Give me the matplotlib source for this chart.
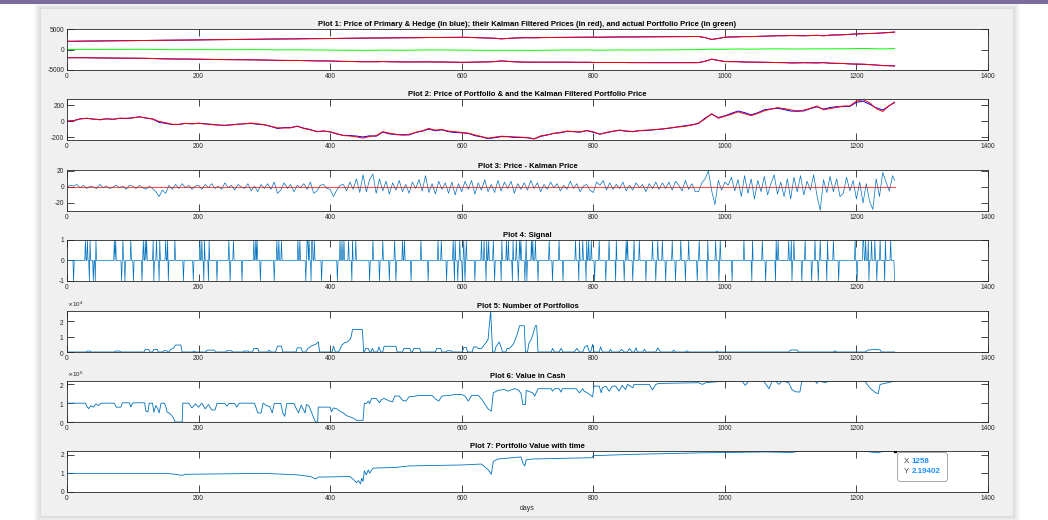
import numpy as np
import matplotlib
matplotlib.use('Agg')
import matplotlib.pyplot as plt
from matplotlib.patches import Rectangle
from matplotlib.ticker import ScalarFormatter
from matplotlib.offsetbox import TextArea, HPacker, AnnotationBbox

plt.rcParams['font.family'] = ['Liberation Sans', 'DejaVu Sans']
plt.rcParams['axes.unicode_minus'] = False

# ---- data ----
# 10-day grid for prices
days10 = [1] + list(range(10, 1251, 10)) + [1258]
kalman_port = [0,
    5, 28, 36, 25, 16, 28, 22, 36, 35, 40,
    52, 40, 28, -4, -20, -40, -40, -28, -32, -28,
    -36, -44, -50, -56, -48, -40, -32, -24, -34, -44,
    -64, -84, -86, -84, -64, -92, -110, -128, -125, -132,
    -156, -180, -185, -196, -212, -192, -180, -132, -150, -164,
    -168, -164, -140, -120, -92, -112, -105, -124, -132, -140,
    -150, -172, -192, -212, -200, -188, -192, -196, -200, -204,
    -220, -184, -170, -152, -140, -124, -130, -132, -120, -132,
    -164, -140, -125, -112, -122, -128, -118, -112, -108, -100,
    -92, -80, -72, -64, -50, -24, 28, 92, 36, 60,
    85, 116, 92, 68, 96, 128, 148, 168, 156, 140,
    128, 136, 160, 188, 140, 156, 170, 188, 188, 248,
    268, 228, 156, 120, 196,
    228]
primary = [2000,
    2010, 2030, 2050, 2060, 2080, 2100, 2120, 2140, 2150, 2170,
    2190, 2200, 2220, 2240, 2260, 2270, 2290, 2300, 2320, 2340,
    2360, 2380, 2400, 2410, 2430, 2450, 2470, 2490, 2500, 2520,
    2540, 2560, 2570, 2590, 2600, 2620, 2640, 2650, 2660, 2680,
    2700, 2720, 2740, 2760, 2780, 2790, 2800, 2810, 2830, 2840,
    2860, 2870, 2880, 2900, 2920, 2930, 2940, 2950, 2960, 2980,
    2960, 2900, 2850, 2800, 2750, 2600, 2700, 2800, 2850, 2880,
    2860, 2900, 2920, 2940, 2950, 2960, 2980, 2990, 3000, 3010,
    3000, 3020, 3040, 3050, 3060, 3070, 3080, 3090, 3100, 3110,
    3120, 3130, 3140, 3150, 3160, 3170, 2900, 2450, 2700, 3000,
    3050, 3100, 3150, 3150, 3200, 3250, 3300, 3350, 3350, 3400,
    3380, 3350, 3400, 3450, 3350, 3500, 3550, 3600, 3700, 3800,
    3850, 3900, 3950, 4050, 4150,
    4250]

# 5-day grid for price - kalman price
days5 = [1] + list(range(5, 1256, 5)) + [1258]
resid = [
    0, 2, 1, 3, -1, 2, -2, 1, 0, -2, 3, -1, 1, -2, 0, 2, -1, 1, -3, 2,
    1, -2, 2, -1, -3, 1, -2, -6, -12, -4, -8, 2, -3, 3, -2, 4, -1, 2, -3, 1,
    2, -3, 3, -1, 4, -2, 1, -3, 5, -1, 2, -4, 3, 0, -2, 4, -5, 1, -6, 3,
    -2, 4, -3, 6, -8, -4, 5, -2, 3, -6, 2, -1, 4, -3, 6, -8, -5, 2, 3, -2,
    -3, -12, -4, 2, 3, -5, 6, -3, 10, -7, 15, -6, 9, 16, -8, 10, -5, 7, -9, 5,
    -4, 8, -6, 3, -8, 6, -2, 9, -5, 14, -7, 4, -9, 7, -3, 5, -8, 6, -10, 4,
    -6, 7, -3, 8, -9, 5, -4, 9, -6, 3, -7, 8, -5, 6, -2, 7, -8, 4, -3, 5,
    -4, 8, -2, 5, -6, 3, -3, 6, -1, 4, -5, 2, -3, 7, -2, 4, -6, 1, 3, -4,
    -7, 6, 2, 8, -4, 5, -3, 3, -2, 6, -5, 2, -4, 5, -1, 3, -6, 4, -2, 6,
    -3, 5, -2, 6, -4, 7, 2, -5, 8, -3, 4, -6, -6, 5, 10, 20, -5, -22, 8, -4,
    6, 2, 12, -5, 9, -12, 14, -8, 10, -15, 8, -6, 13, -10, 4, 15, -9, 6, -12, 10,
    -15, 12, -6, 14, -10, 7, -4, 15, -11, -29, 9, -7, 13, -6, 10, -12, -8, 12, -5, 8,
    -15, 6, -20, 4, -18, -28, 10, -12, 18, 6, -5, 14, 8]

# trading signal events
n_days = 1258
up_days = [28, 31, 35, 44, 72, 74, 85, 97, 116, 119, 121, 131, 136, 141, 150, 153, 164,
           202, 205, 209, 216, 246, 253, 284, 287, 289, 319, 322, 326, 351, 354, 365, 366,
           368, 372, 373, 376, 415, 418, 421, 428, 434, 439, 465, 480, 498, 510, 513, 538,
           564, 569, 587, 590, 597, 603, 607, 630, 634, 638, 641, 648, 661, 668, 671, 678,
           683, 688, 690, 698, 706, 708, 712, 733, 748, 773, 779, 784, 790, 793, 797, 809,
           824, 835, 850, 852, 862, 870, 890, 898, 905, 920, 933, 945, 961, 974, 986, 993,
           1029, 1042, 1057, 1078, 1081, 1097, 1101, 1105, 1122, 1137, 1145, 1156, 1165,
           1198, 1210, 1211, 1214, 1218, 1223, 1228, 1236, 1244, 1252]
down_days = [10, 34, 40, 43, 83, 88, 101, 114, 132, 140, 154, 177, 192, 208, 215, 228, 248,
             266, 294, 315, 363, 371, 387, 411, 433, 460, 475, 490, 500, 523, 549, 577, 589,
             594, 601, 605, 620, 637, 650, 660, 677, 686, 696, 699, 716, 738, 754, 778, 789,
             802, 819, 834, 847, 860, 880, 895, 910, 925, 940, 958, 973, 991, 1011, 1041,
             1062, 1077, 1102, 1117, 1132, 1142, 1155, 1173, 1201, 1219, 1231, 1243, 1258]

# number of portfolios
npf_days = [1, 29, 31, 35, 37, 72, 74, 80, 82, 117, 119, 124, 126, 130, 132, 137, 139,
            145, 147, 152, 154, 155, 157, 162, 165, 173, 175, 191, 193, 196, 211, 213, 224, 226,
            241, 243, 250, 252, 267, 269, 275, 277, 282, 284, 290, 292, 305, 307, 310,
            317, 320, 326, 328, 348, 350, 356, 358, 363, 366, 372, 378, 382, 384, 403, 405, 408,
            411, 414, 418, 422, 426, 430, 432, 434, 449, 451, 452, 454, 458, 460, 462, 464, 467,
            472, 474, 477, 480, 482, 500, 502, 510, 512, 521, 523, 525, 527, 536, 538,
            560, 562, 568, 570, 576, 578, 584, 586, 601, 603, 607, 609,
            616, 618, 622, 625, 630, 636, 640, 644, 647, 650, 652, 657, 660, 662,
            667, 669, 672, 675, 679, 684, 688, 695, 697, 700, 702, 705, 708, 712, 714, 716,
            736, 738, 741, 748, 751, 754, 771, 775, 779, 784, 787, 791, 794, 796, 799, 801,
            809, 811, 814, 824, 826, 829, 839, 843, 847, 852, 855, 859, 862, 865, 867,
            875, 878, 880, 895, 898, 902, 920, 922, 925, 940, 942, 945, 986, 988, 990,
            1097, 1100, 1110, 1112, 1165, 1167, 1170, 1213, 1218, 1230, 1236, 1238, 1258]
npf_vals = [0, 0, 600, 600, 0, 0, 600, 600, 0, 0, 1700, 1700, 0, 0, 1700, 1700, 0,
            0, 800, 800, 0, 0, 1500, 2500, 4500, 4500, 0, 0, 600, 0, 0, 1200, 1200, 0,
            0, 800, 800, 0, 0, 600, 600, 0, 0, 2300, 2300, 0, 0, 1200, 0,
            0, 3800, 3800, 0, 0, 2700, 2700, 0, 0, 2300, 4000, 5000, 6500, 0, 0, 3800, 0,
            0, 800, 4500, 6000, 6500, 8000, 10000, 14500, 14500, 0, 0, 2300, 2300, 0, 0, 2300, 0,
            0, 3300, 0, 0, 3700, 3700, 0, 0, 2300, 2300, 0, 0, 2300, 2300, 0,
            0, 2300, 2300, 0, 0, 800, 800, 0, 0, 2900, 2900, 0,
            0, 3300, 3300, 2300, 2300, 5500, 8000, 26500, 0, 0, 3300, 6500, 3000, 0,
            0, 2300, 2300, 3300, 5500, 11000, 17000, 17000, 0, 0, 5500, 7500, 11000, 17000, 17000, 0,
            0, 2300, 0, 0, 2300, 0, 0, 2300, 0, 0, 3300, 4200, 0, 0, 5000, 0,
            0, 3300, 0, 0, 1700, 0, 0, 1700, 0, 0, 2300, 0, 0, 2700, 0,
            0, 1700, 0, 0, 2700, 0, 0, 1200, 0, 0, 800, 0, 0, 600, 0,
            0, 1300, 1300, 0, 0, 800, 0, 0, 1300, 1700, 1300, 0, 0]

# value in cash (x 1e6)
cash_days = [1, 28, 30, 33, 36, 40, 44, 48, 52, 72, 75, 82, 84, 95, 97, 100, 118, 120, 123,
             125, 130, 132, 135, 138, 140, 143, 148, 150, 152, 155, 158, 162, 164, 175, 176,
             185, 190, 195, 200, 205, 210, 215, 220, 225, 228, 240, 243, 246, 255, 258, 262,
             285, 290, 295, 298, 305, 308, 312, 315, 325, 328, 331, 334, 345, 348, 352, 356,
             358, 362, 364, 368, 372, 376, 378, 381, 382, 400, 402, 405, 410, 415, 420, 425,
             430, 435, 440, 450, 452, 455, 458, 460, 463, 470, 475, 478, 482, 490, 495, 498,
             505, 510, 515, 520, 530, 535, 555, 560, 565, 570, 580, 590, 600, 605, 610, 615,
             625, 630, 640, 645, 648, 655, 665, 670, 680, 685, 690, 693, 697, 698, 708, 711,
             716, 736, 738, 741, 748, 751, 753, 774, 779, 784, 786, 791, 799, 801, 809, 812,
             814, 819, 824, 829, 834, 839, 844, 849, 852, 860, 862, 885, 890, 895, 900, 960,
             966, 971, 1001, 1026, 1031, 1036, 1059, 1067, 1072, 1077, 1082, 1087, 1097, 1102,
             1107, 1114, 1117, 1137, 1140, 1142, 1153, 1158, 1213, 1218, 1223, 1228, 1233,
             1236, 1243, 1248, 1258]
cash_vals = [1.0, 1.0, 0.84, 0.71, 0.87, 0.79, 0.96, 0.87, 1.0, 1.0, 0.79, 0.79, 1.02, 1.02,
             0.8, 1.02, 1.02, 0.57, 0.53, 1.0, 1.0, 0.52, 0.875, 0.7, 0.48, 1.0, 1.0, 0.84,
             0.54, 0.48, 0.39, 0.21, 0.0, 0.0, 1.0, 1.0, 0.75, 0.96, 0.79, 1.0, 0.7, 0.93,
             0.64, 0.64, 0.98, 0.98, 0.84, 0.98, 0.98, 0.79, 1.0, 1.0, 0.48, 0.48, 1.0, 0.84,
             0.84, 0.48, 0.98, 0.98, 0.48, 0.3, 0.98, 0.98, 0.75, 0.48, 0.9, 0.75, 0.48, 0.93,
             0.84, 0.48, 0.125, 0.0, 0.0, 0.79, 0.79, 0.54, 0.75, 0.7, 0.57, 0.48, 0.34, 0.27,
             0.21, 0.09, 0.09, 1.0, 0.98, 1.11, 0.98, 1.25, 1.25, 1.02, 1.2, 1.25, 1.12, 1.07,
             1.38, 1.38, 1.16, 1.11, 1.34, 1.38, 1.41, 1.41, 1.23, 1.11, 1.38, 1.41, 1.46,
             1.46, 1.38, 1.11, 1.41, 1.41, 1.23, 0.7, 0.57, 1.55, 1.68, 1.73, 1.64, 1.77, 1.73,
             1.54, 0.93, 0.93, 1.68, 1.55, 1.38, 1.77, 1.77, 1.64, 1.77, 1.77, 1.59, 1.77,
             1.77, 1.55, 1.77, 1.64, 1.55, 1.34, 1.91, 1.91, 1.55, 1.82, 1.91, 1.64, 1.91,
             1.91, 1.64, 1.95, 1.73, 2.0, 1.82, 2.0, 2.0, 1.70, 2.0, 2.05, 2.09, 2.0, 2.09,
             2.18, 2.18, 1.95, 2.18, 2.18, 1.77, 2.18, 2.18, 2.0, 2.18, 2.09, 1.73, 1.61, 1.59,
             2.18, 2.18, 2.05, 2.18, 2.09, 2.18, 2.18, 1.91, 1.73, 1.59, 1.5, 2.0, 2.05, 2.09,
             2.18]

# portfolio value (x 1e6)
pv_days = [1, 150, 165, 175, 180, 300, 350, 370, 378, 382, 430, 435, 440, 443, 446, 448, 450,
           452, 455, 458, 460, 465, 500, 520, 600, 630, 640, 645, 648, 655, 690, 693, 696,
           698, 708, 759, 798, 800, 860, 960, 1062, 1102, 1112, 1213, 1223, 1233, 1238, 1258]
pv_vals = [1.0, 1.0, 0.95, 0.89, 0.95, 1.0, 0.92, 0.83, 0.70, 0.80, 0.83, 0.68, 0.5, 0.61,
           0.43, 0.74, 0.56, 1.14, 0.92, 1.19, 1.01, 1.28, 1.32, 1.40, 1.45, 1.50, 1.20, 0.95,
           1.64, 1.77, 1.88, 1.54, 1.40, 1.73, 1.77, 1.81, 1.84, 1.95, 2.02, 2.10, 2.15, 2.12,
           2.19, 2.19, 2.14, 2.10, 2.16, 2.19402]

titles = ['Plot 1: Price of Primary & Hedge (in blue); their Kalman Filtered Prices (in red), and actual Portfolio Price (in green)',
          'Plot 2: Price of Portfolio & and the Kalman Filtered Portfolio Price',
          'Plot 3: Price - Kalman Price',
          'Plot 4: Signal',
          'Plot 5: Number of Portfolios',
          'Plot 6: Value in Cash',
          'Plot 7: Portfolio Value with time']

# ---- derived series ----
kalman_port = np.array(kalman_port, float)
primary = np.array(primary, float)
resid = np.array(resid, float)
price_port = kalman_port + resid[::2]
hedge = price_port - primary
kalman_hedge = kalman_port - primary
signal = np.zeros(n_days)
signal[np.array(up_days) - 1] = 1
signal[np.array(down_days) - 1] = -1
sig_days = np.arange(1, n_days + 1)

# ---- figure ----
W, H = 1048, 520
fig = plt.figure(figsize=(W / 100, H / 100), dpi=100)
fig.patch.set_facecolor('white')

px0, px1, py0, py1 = 41, 1013, 9, 516
for i in range(7):
    p = 7 - i
    fig.add_artist(Rectangle(((px0 - p) / W, 1 - (py1 + p) / H), (px1 - px0 + 2 * p) / W,
                             (py1 - py0 + 2 * p) / H, transform=fig.transFigure,
                             color='black', alpha=0.02, lw=0, zorder=-10))
fig.add_artist(Rectangle((px0 / W, 1 - py1 / H), (px1 - px0) / W, (py1 - py0) / H,
                         transform=fig.transFigure, color='#f0f0f0', lw=0, zorder=-5))
fig.add_artist(Rectangle((0, 1 - 4 / H), 1, 4 / H, transform=fig.transFigure,
                         color='#7a6c9c', lw=0, zorder=-4))

ax_left, ax_right = 67, 988
tops = [29, 99, 170, 240, 311, 381, 451]
ax_h = 41
axes = []
for t in tops:
    ax = fig.add_axes([ax_left / W, 1 - (t + ax_h) / H, (ax_right - ax_left) / W, ax_h / H])
    ax.set_facecolor('white')
    ax.set_xlim(0, 1400)
    ax.set_xticks(range(0, 1401, 200))
    ax.tick_params(direction='in', length=5, width=0.6, top=True, right=True,
                   labelsize=4.8, colors='#262626', pad=2)
    for s in ax.spines.values():
        s.set_color('#262626')
        s.set_linewidth(0.6)
    axes.append(ax)

for ax, t in zip(axes, titles):
    ax.set_title(t, fontsize=5.5, fontweight='bold', pad=1.8, color='black')

blue = '#0072bd'

# Plot 1
ax = axes[0]
ax.plot(days10, primary, color='#0000ff', lw=0.7)
ax.plot(days10, hedge, color='#0000ff', lw=0.7)
ax.plot(days10, primary, color='#ff0000', lw=0.7)
ax.plot(days10, kalman_hedge, color='#ff0000', lw=0.7)
ax.plot(days10, price_port, color='#00ff00', lw=0.7)
ax.set_ylim(-5000, 5000)
ax.set_yticks([-5000, 0, 5000])

# Plot 2
ax = axes[1]
ax.plot(days10, price_port, color='#0000ff', lw=0.7)
ax.plot(days10, kalman_port, color='#ff0000', lw=0.7)
ax.set_ylim(-235, 275)
ax.set_yticks([-200, 0, 200])

# Plot 3
ax = axes[2]
ax.plot(days5, resid, color=blue, lw=0.5)
ax.plot(days5, np.zeros_like(resid), color='#ff0000', lw=0.8, alpha=0.7)
ax.set_ylim(-30, 21)
ax.set_yticks([-20, 0, 20])

# Plot 4
ax = axes[3]
ax.plot(sig_days, signal, color=blue, lw=0.5)
ax.set_ylim(-1, 1)
ax.set_yticks([-1, 0, 1])

# Plot 5
ax = axes[4]
ax.plot(npf_days, npf_vals, color=blue, lw=0.6)
ax.set_ylim(0, 26500)
ax.set_yticks([0, 10000, 20000])

# Plot 6
ax = axes[5]
ax.plot(cash_days, np.array(cash_vals) * 1e6, color=blue, lw=0.6)
ax.plot(cash_days, np.zeros(len(cash_days)), color=blue, lw=0.8)
ax.set_ylim(0, 2.18e6)
ax.set_yticks([0, 1e6, 2e6])

for ax in (axes[4], axes[5]):
    fmt = ScalarFormatter(useMathText=True)
    fmt.set_powerlimits((0, 0))
    ax.yaxis.set_major_formatter(fmt)
    ax.yaxis.get_offset_text().set_fontsize(4.5)
    ax.yaxis.get_offset_text().set_color('#262626')

# Plot 7
ax = axes[6]
ax.plot(pv_days, pv_vals, color=blue, lw=0.6)
ax.set_ylim(0, 2.2)
ax.set_yticks([0, 1, 2])
ax.set_xlabel('days', fontsize=5, labelpad=2, color='#262626')

# data tip on the last point
tip = (pv_days[-1], pv_vals[-1])
ax.plot(*tip, marker='s', ms=2, color='black', zorder=5)
keys = TextArea("X\nY", textprops=dict(fontsize=5.8, color='#404040', linespacing=1.5))
vals = TextArea(f"{tip[0]}\n{tip[1]:.5f}",
                textprops=dict(fontsize=5.8, color='#1e90ff', fontweight='bold', linespacing=1.5))
tipbox = HPacker(children=[keys, vals], align='top', pad=0, sep=2)
ab = AnnotationBbox(tipbox, tip, xybox=(9, -7), boxcoords='offset pixels',
                    box_alignment=(0, 1), frameon=True, pad=0.45,
                    bboxprops=dict(boxstyle='round,pad=0.45,rounding_size=0.2',
                                   fc='white', ec='#9a9a9a', lw=0.6))
ab.set_zorder(6)
ax.add_artist(ab)

fig.savefig('out.png', dpi=100, facecolor=fig.get_facecolor())
